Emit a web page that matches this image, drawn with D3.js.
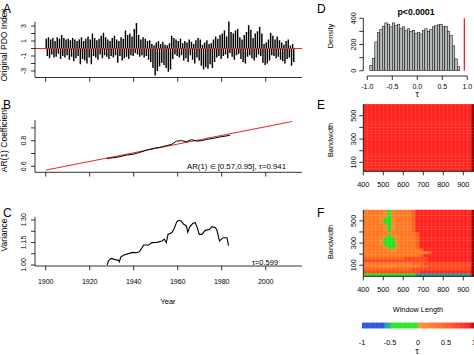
<!DOCTYPE html>
<html><head><meta charset="utf-8">
<script src="https://cdn.jsdelivr.net/npm/d3@7"></script>
<style>body{margin:0;background:#fff}svg{display:block}text{font-family:"Liberation Sans",Arial,sans-serif}</style>
</head><body><svg id="c" width="474" height="355"></svg>
<script>
// ---------- DATA ----------
const pdoYears = d3.range(1900, 2013);
const pdoMax = [1.3,1.5,1.2,1.4,1.0,1.5,1.3,1.8,1.4,1.2,
  1.3,1.1,1.4,1.2,1.0,1.2,1.5,1.0,1.3,1.6,
  1.2,2.0,1.4,1.1,1.3,1.7,2.1,1.5,1.2,1.0,
  1.4,1.7,1.2,1.0,1.5,1.3,2.4,1.8,2.0,1.6,
  2.6,3.4,1.8,1.2,1.5,1.3,1.0,1.1,0.6,0.4,
  0.8,1.0,0.6,0.9,0.5,0.4,0.7,1.7,1.4,1.2,
  1.0,1.3,0.7,1.0,0.8,1.2,0.9,0.6,1.1,1.4,
  1.2,0.5,0.8,1.1,0.6,0.7,1.2,1.6,1.3,1.8,
  2.0,2.4,1.6,3.6,2.2,2.0,2.4,2.6,1.5,1.2,
  1.8,2.2,3.1,2.5,1.4,2.0,2.3,2.9,2.0,0.6,
  0.8,1.2,2.1,1.7,1.2,1.6,1.1,0.8,0.5,1.0,1.2,0.4,0.6];
const pdoMin = [-1.0,-1.3,-0.8,-1.2,-1.1,-0.7,-1.4,-1.0,-1.2,-0.9,
  -1.5,-1.1,-1.7,-1.3,-1.0,-2.1,-1.4,-1.6,-2.0,-1.2,
  -2.1,-1.0,-1.2,-1.5,-0.8,-1.3,-0.9,-1.1,-1.4,-1.0,
  -1.2,-0.9,-1.9,-1.0,-1.6,-1.3,-1.1,-1.4,-0.9,-1.0,
  -0.6,-0.8,-1.1,-0.9,-1.2,-1.0,-1.5,-1.8,-2.6,-3.6,
  -3.0,-2.4,-1.9,-2.2,-2.6,-3.1,-2.8,-1.4,-0.8,-1.0,
  -1.2,-0.9,-1.6,-1.3,-1.8,-0.9,-1.5,-2.0,-1.2,-1.6,
  -2.3,-2.8,-2.5,-2.7,-2.1,-2.6,-1.8,-1.2,-1.0,-1.4,
  -1.0,-0.8,-1.3,-0.6,-1.1,-1.5,-0.9,-0.7,-1.4,-1.8,
  -2.0,-1.1,-0.9,-1.3,-1.6,-1.2,-0.8,-1.0,-1.9,-2.2,
  -2.0,-1.6,-0.9,-1.0,-1.3,-1.1,-1.5,-1.7,-2.0,-1.4,-1.2,-2.3,-1.8];

const arYears = [1927.8,1930.8,1933.8,1936.8,1939.8,1942.8,1945.9,1948.9,1951.9,1954.9,1957.2,1959.5,1961.8,1964.0,1966.3,1968.6,1970.9,1973.2,1976.2,1979.2,1983.8];
const arVals  = [0.662,0.667,0.675,0.688,0.694,0.709,0.727,0.740,0.748,0.761,0.771,0.797,0.800,0.792,0.808,0.797,0.800,0.810,0.818,0.829,0.842];
const arTrendYears = [1900, 2012];
const arTrendVals  = [0.57, 0.95];

const varYears = [1927.9,1928.6,1929.8,1931.6,1933.1,1933.5,1934.1,1935.6,1937.6,1939.5,1941.4,1942.6,1943.6,1944.5,1946.8,1948.3,1950.6,1952.9,1953.9,1954.8,1955.6,1957.4,1958.4,1959.6,1960.7,1961.6,1962.7,1963.9,1964.6,1965.4,1966.9,1968.0,1969.0,1969.8,1971.0,1972.5,1974.5,1975.5,1977.1,1977.8,1979.0,1980.6,1982.4,1983.1];
const varVals  = [1.000,1.029,1.044,1.036,1.031,1.022,1.053,1.067,1.076,1.084,1.082,1.089,1.111,1.133,1.133,1.149,1.151,1.160,1.173,1.149,1.204,1.216,1.244,1.289,1.298,1.293,1.271,1.262,1.218,1.253,1.278,1.282,1.244,1.204,1.204,1.231,1.236,1.256,1.249,1.233,1.160,1.182,1.182,1.129];

const yearTicks = [1900,1920,1940,1960,1980,2000];

const histBins = d3.range(-0.95, 0.801, 0.05).map(v => +v.toFixed(2));
const histCounts = [40,95,220,290,315,340,365,355,335,365,345,355,325,335,305,320,300,305,285,290,
  280,305,320,300,315,335,345,350,355,335,340,300,270,190,90,30];
const tauObs = 0.941;
const histTicks = [-1.0,-0.5,0.0,0.5,1.0];

// heatmap cells: window length bins (20 wide from 400), bandwidth bins (25 wide)
const winStarts = d3.range(400, 960, 20);
const tauLevels = {T:-0.55, G:-0.3, y:0.05, o:0.2, p:0.4, r:0.6, R:0.85, D:1.0};
// E rows, from bandwidth 575-600 (top) down to 25-50
const eRows = [
"RRRRRRRRRRRRRRRRRRRRRRRRRRRD","RRRRRRRRRRRRRRRRRRRRRRRRRRRD","RRRRRRRRRRRRRRRRRRRRRRRRRRRD",
"RRRRRRRRRRRRRRRRRRRRRRRRRRRD","RRRRRRRRRRRRRRRRRRRRRRRRRRRD","RRRRRRRRRRRRRRRRRRRRRRRRRRRD",
"RRRRRRRRRRRRRRRRRRRRRRRRRRRD","RRRRRRRRRRRRRRRRRRRRRRRRRRRD","RRRRRRRRRRRRRRRRRRRRRRRRRRRD",
"RRRRRRRRRRRRRRRRRRRRRRRRRRRD","RRRRRRRRRRRRRRRRRRRRRRRRRRRD","RRRRRRRRRRRRRRRRRRRRRRRRRRRD",
"RRRRRRRRRRRRRRRRRRRRRRRRRRRD","RRRRRRRRRRRRRRRRRRRRRRRRRRRD","RRRRRRRRRRRRRRRRRRRRRRRRRRRD",
"RRRRRRRRRRRRRRRRRRRRRRRRRRRD","RRRRRRRRRRRRRRRRRRRRRRRRRRRD","RRRRRRRRRRRRRRRRRRRRRRRRRRRD",
"RRRRRRRRRRRRRRRRRRRRRRRRRRRD","RRRRRRRRRRRRRRRRRRRRRRRRRRRD","RRRRRRRRRRRRRRRRRRRRRRRRRRRD",
"RRRRRRRRRRRRRRRRRRRRRRRRRRRD","RRRRRRRRRRRRRRRRRRRRRRRRRRRD"];
const eBandTop = 600;
// F rows, from bandwidth 575-600 (top) down to 0-25
const fRows = [
"oooooyGyoooopRRRRRRRRRRRRRRD",
"oooooyGyoooopRRRRRRRRRRRRRRD",
"oooooyGyoooopRRRRRRRRRRRRRRD",
"ooooyGGyoooopRRRRRRRRRRRRRRD",
"ooooyGGyoooopRRRRRRRRRRRRRRD",
"oooooyGyoooopRRRRRRRRRRRRRRD",
"oooooyGyoooopRRRRRRRRRRRRRRD",
"oooooyGyoooopRRRRRRRRRRRRRRD",
"ooooooyoooooopRRRRRRRRRRRRRD",
"oooooyGyooooopRRRRRRRRRRRRRD",
"ooooyGGGyoooopRRRRRRRRRRRRRD",
"ooooyGGGyoooopRRRRRRRRRRRRRD",
"ooooyGGGyoooopRRRRRRRRRRRRRD",
"oooooyGGyoooopRRRRRRRRRRRRRD",
"ooooooyyyooooopRRRRRRRRRRRRD",
"oooooooooooooooopRRRRRRRRRRD",
"oooooooooooooopRRRRRRRRRRRRD",
"pppppppppprrrrrrRRRRRRRRRRRD",
"rrrrrrrrrrrrrrrrRRRRRRRRRRRD",
"ooooooooooooppprrrrrrrrrrrrD",
"ooooyyyyoooooopprrrrrrrrrrrD",
"pppppppppppprrrrrrrrrrrrrrrD",
"rrrrrrrrrrrrrrRRRRRRRRRRRRRD",
"GGGGGGGGGGGGGTTTTTTTTTTTTTTD"];
const fBandTop = 600;
const winTicks = [400,500,600,700,800,900];
const bwTicks = [100,200,300,400,500];
const bwLabels = [100,300,500];
const cbarTicks = [-1,-0.5,0,0.5,1];
const cbarLabels = ["-1","-0.5","0","0.5","1"];

// ---------- DRAW ----------
const svg = d3.select("#c");
svg.append("rect").attr("width",474).attr("height",355).attr("fill","#fff");
const RED = "#e3262f";
const FS = 7, FSR = 7.3;

const x = d3.scaleLinear().domain([1900,2000]).range([45.7,265.7]);

function lbox(top, bottom){
  svg.append("path").attr("d",`M35,${top}V${bottom}H302`).attr("fill","none").attr("stroke","#000").attr("stroke-width",0.8);
}
function xticks(yb, labels){
  yearTicks.forEach(t=>{
    svg.append("line").attr("x1",x(t)).attr("x2",x(t)).attr("y1",yb).attr("y2",yb+4.3).attr("stroke","#000").attr("stroke-width",0.8);
    if(labels) svg.append("text").attr("x",x(t)).attr("y",yb+17.5).attr("text-anchor","middle").attr("font-size",FS).text(t);
  });
}
function yticks(scale, ticks, labels, fmt){
  ticks.forEach(t=>{
    const yy = scale(t);
    svg.append("line").attr("x1",31).attr("x2",35).attr("y1",yy).attr("y2",yy).attr("stroke","#000").attr("stroke-width",0.8);
  });
  labels.forEach(t=>{
    const yy = scale(t);
    svg.append("text").attr("transform",`translate(26,${yy}) rotate(-90)`).attr("text-anchor","middle").attr("font-size",FS).text(fmt(t));
  });
}
function ytitle(txt, cx, cy, fs){
  svg.append("text").attr("transform",`translate(${cx},${cy}) rotate(-90)`).attr("text-anchor","middle").attr("font-size",fs).text(txt);
}
function letter(txt, lx, ly){
  svg.append("text").attr("x",lx).attr("y",ly).attr("font-size",12).text(txt);
}

// Panel A
const yA = d3.scaleLinear().domain([-3,3]).range([71,26]);
const gA = svg.append("g");
pdoYears.forEach((yr,i)=>{
  gA.append("line").attr("x1",x(yr+0.25)).attr("x2",x(yr+0.25)).attr("y1",yA(0)).attr("y2",yA(pdoMax[i])).attr("stroke","#000").attr("stroke-width",1.45);
  gA.append("line").attr("x1",x(yr+0.75)).attr("x2",x(yr+0.75)).attr("y1",yA(0)).attr("y2",yA(pdoMin[i])).attr("stroke","#000").attr("stroke-width",1.45);
});
svg.append("line").attr("x1",35).attr("x2",302).attr("y1",yA(0)).attr("y2",yA(0)).attr("stroke",RED).attr("stroke-width",1.2);
lbox(21.7,77.5); xticks(77.5,false);
yticks(yA,[-3,-2,-1,0,1,2,3],[-3,-1,1,3],d=>d);
ytitle("Original PDO Index",7,45,8.5);
letter("A",3,13);

// Panel B
const yB = d3.scaleLinear().domain([0.6,0.8]).range([166.3,140.7]);
svg.append("path").datum(arTrendYears.map((d,i)=>[d,arTrendVals[i]]))
  .attr("d",d3.line().x(d=>x(d[0])).y(d=>yB(d[1]))).attr("fill","none").attr("stroke",RED).attr("stroke-width",1);
svg.append("path").datum(arYears.map((d,i)=>[d,arVals[i]]))
  .attr("d",d3.line().x(d=>x(d[0])).y(d=>yB(d[1]))).attr("fill","none").attr("stroke","#000").attr("stroke-width",1);
lbox(120,172.3); xticks(172.3,false);
yticks(yB,[0.6,0.7,0.8,0.9],[0.6,0.8],d=>d.toFixed(1));
ytitle("AR(1) Coefficient",7,140,8.5);
const bt = svg.append("text").attr("x",286).attr("y",169).attr("text-anchor","end").attr("font-size",7.8);
bt.append("tspan").text("AR(1) ");
bt.append("tspan").attr("font-size",6.5).text("\u2208");
bt.append("tspan").text(" [0.57,0.95], \u03c4=0.941");
letter("B",3,109);

// Panel C
const yC = d3.scaleLinear().domain([1.0,1.3]).range([265,220]);
svg.append("path").datum(varYears.map((d,i)=>[d,varVals[i]]))
  .attr("d",d3.line().x(d=>x(d[0])).y(d=>yC(d[1]))).attr("fill","none").attr("stroke","#000").attr("stroke-width",1.1);
lbox(217,266); xticks(266,true);
yticks(yC,[1.0,1.075,1.15,1.225,1.3],[1.0,1.15,1.3],d=>d.toFixed(2));
ytitle("Variance",7,235,8.5);
svg.append("text").attr("x",168).attr("y",304).attr("text-anchor","middle").attr("font-size",FS+0.5).text("Year");
svg.append("text").attr("x",252).attr("y",264.5).attr("font-size",7.5).text("\u03c4=0.599");
letter("C",3,217);

// Panel D
const xD = d3.scaleLinear().domain([-1,1]).range([367.3,467.3]);
const yD = d3.scaleLinear().domain([0,400]).range([70.7,18.3]);
svg.append("g").selectAll("rect").data(histBins).join("rect")
  .attr("x",d=>xD(d)).attr("width",xD(0.05)-xD(0))
  .attr("y",(d,i)=>yD(histCounts[i])).attr("height",(d,i)=>yD(0)-yD(histCounts[i]))
  .attr("fill","#b7bdb9").attr("stroke","#000").attr("stroke-width",0.5);
svg.append("line").attr("x1",xD(tauObs)).attr("x2",xD(tauObs)).attr("y1",yD(400)).attr("y2",yD(0)).attr("stroke",RED).attr("stroke-width",1.3);
svg.append("line").attr("x1",xD(-1)).attr("x2",xD(1)).attr("y1",76).attr("y2",76).attr("stroke","#000").attr("stroke-width",0.8);
histTicks.forEach(t=>{
  svg.append("line").attr("x1",xD(t)).attr("x2",xD(t)).attr("y1",76).attr("y2",80).attr("stroke","#000").attr("stroke-width",0.8);
  svg.append("text").attr("x",xD(t)).attr("y",88.5).attr("text-anchor","middle").attr("font-size",7).text(t.toFixed(1));
});
svg.append("line").attr("x1",363.3).attr("x2",363.3).attr("y1",yD(0)).attr("y2",yD(400)).attr("stroke","#000").attr("stroke-width",0.8);
[0,100,200,300,400].forEach(t=>{
  svg.append("line").attr("x1",359.3).attr("x2",363.3).attr("y1",yD(t)).attr("y2",yD(t)).attr("stroke","#000").attr("stroke-width",0.8);
});
[0,200,400].forEach(t=>{
  svg.append("text").attr("transform",`translate(356,${yD(t)}) rotate(-90)`).attr("text-anchor","middle").attr("font-size",FSR).text(t);
});
ytitle("Density",333,36,FSR);
svg.append("text").attr("x",416).attr("y",15).attr("text-anchor","middle").attr("font-size",8.7).attr("font-weight","bold").text("p<0.0001");
svg.append("text").attr("x",xD(0)).attr("y",97).attr("text-anchor","middle").attr("font-size",8.5).text("\u03c4");
letter("D",317,13);

// colour palette
const pal = d3.scaleLinear()
  .domain([-1,-0.6,-0.59,-0.5,-0.49,0,0.001,0.3,0.6,0.9,1])
  .range(["#2450dc","#2450dc","#1f9f9f","#1f9f9f","#24e324","#24e324","#ff8c28","#ff7022","#ff4a20","#ff1e1e","#a00000"])
  .interpolate(d3.interpolateRgb);

const xW = d3.scaleLinear().domain([400,955]).range([363.3,474.3]);
function heat(rows, top, yS){
  const g = svg.append("g");
  rows.forEach((row,ri)=>{
    const b1 = top - ri*25, b0 = b1-25;
    row.split("").forEach((ch,ci)=>{
      const w0 = winStarts[ci];
      g.append("rect").attr("x",xW(w0)).attr("width",xW(w0+20)-xW(w0)+0.3)
        .attr("y",yS(b1)).attr("height",yS(b0)-yS(b1)+0.3).attr("fill",pal(tauLevels[ch]));
    });
  });
}
function rightAxes(yS, bottom){
  svg.append("line").attr("x1",363.3).attr("x2",363.3).attr("y1",yS(600)).attr("y2",bottom).attr("stroke","#000").attr("stroke-width",0.8);
  bwTicks.forEach(t=>svg.append("line").attr("x1",359.3).attr("x2",363.3).attr("y1",yS(t)).attr("y2",yS(t)).attr("stroke","#000").attr("stroke-width",0.8));
  bwLabels.forEach(t=>svg.append("text").attr("transform",`translate(356,${yS(t)}) rotate(-90)`).attr("text-anchor","middle").attr("font-size",FSR).text(t));
  svg.append("line").attr("x1",363.3).attr("x2",474).attr("y1",bottom).attr("y2",bottom).attr("stroke","#000").attr("stroke-width",0.8);
  winTicks.forEach(t=>{
    svg.append("line").attr("x1",xW(t)).attr("x2",xW(t)).attr("y1",bottom).attr("y2",bottom+4).attr("stroke","#000").attr("stroke-width",0.8);
    svg.append("text").attr("x",xW(t)).attr("y",bottom+15.5).attr("text-anchor","middle").attr("font-size",FSR).text(t);
  });
}
// Panel E
const yE = d3.scaleLinear().domain([0,600]).range([174,104.1]);
heat(eRows, eBandTop, yE);
rightAxes(yE, 171.3);
ytitle("Bandwidth",333,140,FSR);
letter("E",317,109);

// Panel F
const yF = d3.scaleLinear().domain([0,600]).range([276.3,209.8]);
heat(fRows, fBandTop, yF);
rightAxes(yF, 276.3);
ytitle("Bandwidth",333,242,FSR);
svg.append("text").attr("x",418).attr("y",311.5).attr("text-anchor","middle").attr("font-size",FSR).text("Window Length");
letter("F",317,217);

// colour bar
const xCb = d3.scaleLinear().domain([-1,1]).range([362,474]);
const cbSteps = d3.range(-1,1,0.01);
svg.append("g").selectAll("rect").data(cbSteps).join("rect")
  .attr("x",d=>xCb(d)).attr("width",xCb(0.01)-xCb(0)+0.3).attr("y",322.7).attr("height",5.6)
  .attr("fill",d=>pal(d+0.005));
cbarTicks.forEach((t,i)=>{
  svg.append("text").attr("x",xCb(t)).attr("y",345).attr("text-anchor","middle").attr("font-size",FSR).text(cbarLabels[i]);
});
svg.append("text").attr("x",417).attr("y",354).attr("text-anchor","middle").attr("font-size",9).text("\u03c4");
</script></body></html>
